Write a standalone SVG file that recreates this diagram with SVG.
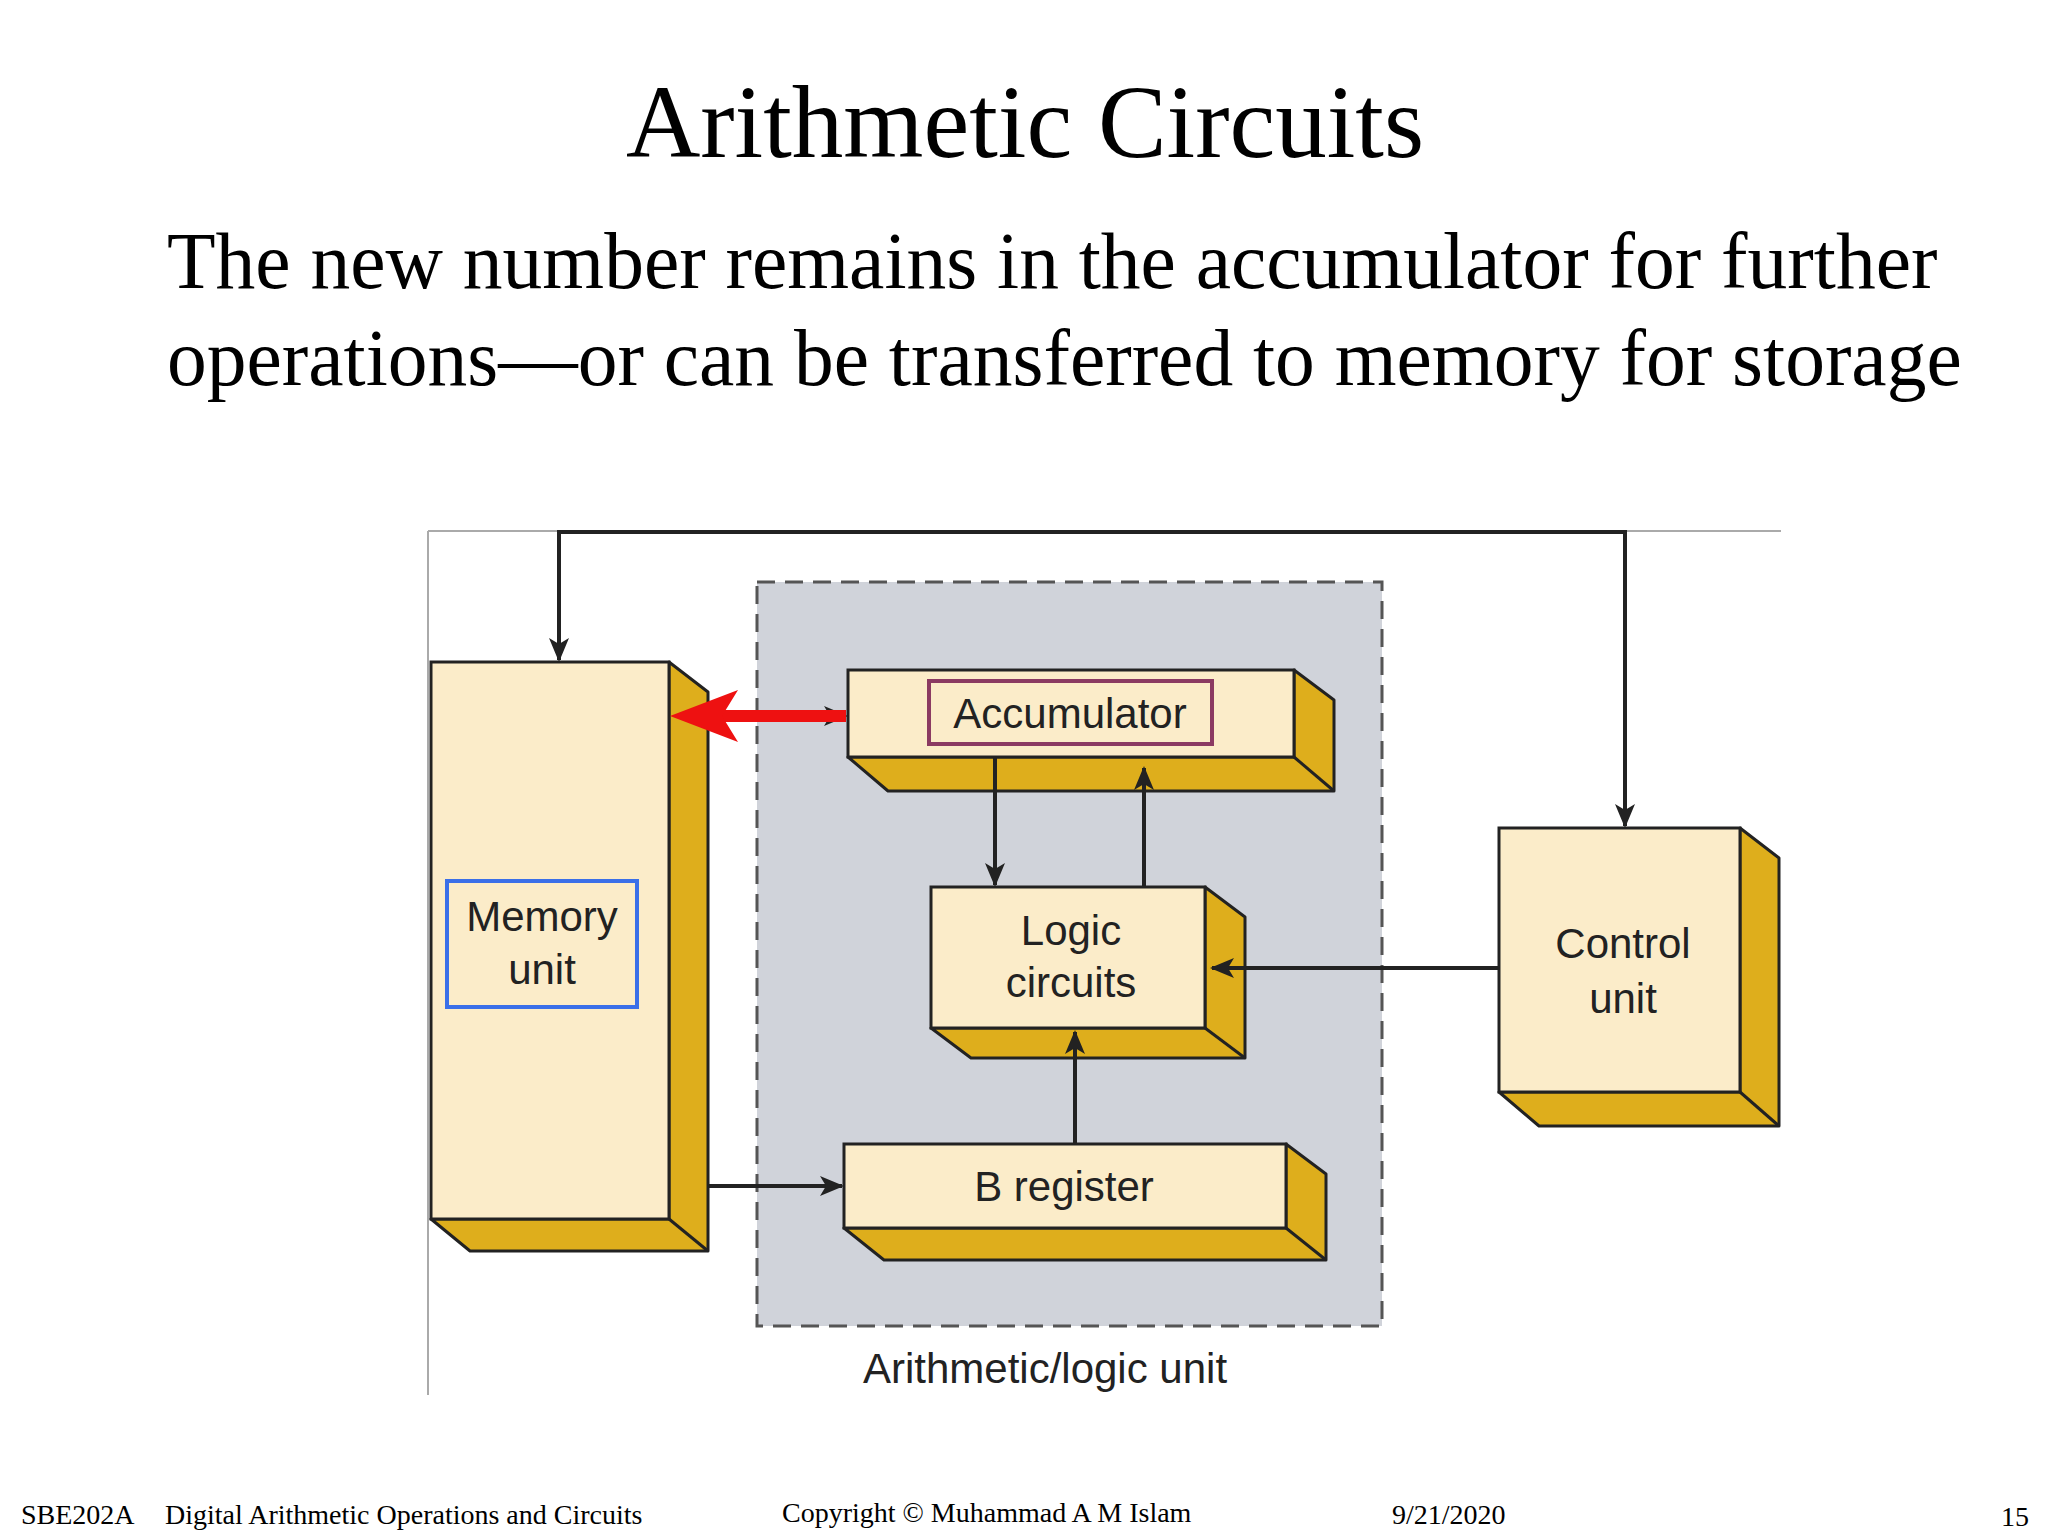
<svg xmlns="http://www.w3.org/2000/svg" width="2048" height="1536" viewBox="0 0 2048 1536">
<style>
.f{fill:#fbecc9;stroke:#222;stroke-width:3}
.d{fill:#deae1c;stroke:#222;stroke-width:3;stroke-linejoin:round}
.t{font-family:"Liberation Sans",Arial,sans-serif;font-size:42px;fill:#222;text-anchor:middle}
.s{font-family:"Liberation Serif","Times New Roman",serif;fill:#000}
.c{stroke:#222;stroke-width:4;fill:none}
</style>
<defs>
<marker id="a" viewBox="0 0 24 20" refX="22" refY="10" markerWidth="24" markerHeight="20" orient="auto" markerUnits="userSpaceOnUse">
<path d="M0,0 L24,10 L0,20 L6,10 Z" fill="#222"/>
</marker>
</defs>
<rect width="2048" height="1536" fill="#fff"/>
<text class="s" x="1025" y="157" font-size="103" text-anchor="middle">Arithmetic Circuits</text>
<text class="s" x="167" y="288" font-size="79.5">The new number remains in the accumulator for further</text>
<text class="s" x="167" y="385" font-size="79.5">operations—or can be transferred to memory for storage</text>

<line x1="428" y1="531" x2="1781" y2="531" stroke="#aaa" stroke-width="2"/>
<line x1="428" y1="531" x2="428" y2="1395" stroke="#aaa" stroke-width="2"/>

<g id="alu">
<rect x="757" y="582" width="625" height="744" fill="#d0d3da" stroke="#555" stroke-width="3" stroke-dasharray="18,10"/>
<text class="t" x="1045" y="1383" font-size="42">Arithmetic/logic unit</text>
</g>

<g id="memory">
<polygon class="d" points="669,662 708,692 708,1251 470,1251 431,1219 669,1219"/>
<line x1="669" y1="1219" x2="708" y2="1251" stroke="#222" stroke-width="3"/>
<rect class="f" x="431" y="662" width="238" height="557"/>
<rect x="447" y="881" width="190" height="126" fill="none" stroke="#3a6fe8" stroke-width="4"/>
<text class="t" x="542" y="931">Memory</text>
<text class="t" x="542" y="984">unit</text>
</g>

<g id="accumulator">
<polygon class="d" points="1294,670 1334,700 1334,791 888,791 848,757 1294,757"/>
<line x1="1294" y1="757" x2="1334" y2="791" stroke="#222" stroke-width="3"/>
<rect class="f" x="848" y="670" width="446" height="87"/>
<rect x="929" y="681" width="283" height="63" fill="none" stroke="#8b3a62" stroke-width="4"/>
<text class="t" x="1070" y="728">Accumulator</text>
</g>

<g id="logic">
<polygon class="d" points="1205,887 1245,917 1245,1058 971,1058 931,1028 1205,1028"/>
<line x1="1205" y1="1028" x2="1245" y2="1058" stroke="#222" stroke-width="3"/>
<rect class="f" x="931" y="887" width="274" height="141"/>
<text class="t" x="1071" y="945">Logic</text>
<text class="t" x="1071" y="997">circuits</text>
</g>

<g id="bregister">
<polygon class="d" points="1286,1144 1326,1174 1326,1260 884,1260 844,1228 1286,1228"/>
<line x1="1286" y1="1228" x2="1326" y2="1260" stroke="#222" stroke-width="3"/>
<rect class="f" x="844" y="1144" width="442" height="84"/>
<text class="t" x="1064" y="1201">B register</text>
</g>

<g id="control">
<polygon class="d" points="1740,828 1779,858 1779,1126 1539,1126 1499,1092 1740,1092"/>
<line x1="1740" y1="1092" x2="1779" y2="1126" stroke="#222" stroke-width="3"/>
<rect class="f" x="1499" y="828" width="241" height="264"/>
<text class="t" x="1623" y="958">Control</text>
<text class="t" x="1623" y="1013">unit</text>
</g>

<g id="connectors">
<polyline class="c" points="559,660 559,532 1625,532 1625,826" stroke-width="5" marker-end="url(#a)"/>
<line class="c" x1="559" y1="560" x2="559" y2="660" marker-end="url(#a)"/>
<line class="c" x1="995" y1="758" x2="995" y2="885" marker-end="url(#a)"/>
<line class="c" x1="1144" y1="887" x2="1144" y2="768" marker-end="url(#a)"/>
<line class="c" x1="1075" y1="1144" x2="1075" y2="1032" marker-end="url(#a)"/>
<line class="c" x1="1499" y1="968" x2="1212" y2="968" marker-end="url(#a)"/>
<line class="c" x1="708" y1="1186" x2="842" y2="1186" marker-end="url(#a)"/>
<line class="c" x1="790" y1="716" x2="846" y2="716" marker-end="url(#a)" stroke-width="2"/>
<line x1="846" y1="716" x2="720" y2="716" stroke="#ee1111" stroke-width="12"/>
<polygon points="670,716 738,690 722,716 738,742" fill="#ee1111"/>
</g>

<g font-family="Liberation Serif,serif" font-size="28" fill="#000">
<text x="21" y="1524">SBE202A</text>
<text x="165" y="1524">Digital Arithmetic Operations and Circuits</text>
<text x="782" y="1522">Copyright © Muhammad A M Islam</text>
<text x="1392" y="1524">9/21/2020</text>
<text x="2001" y="1526">15</text>
</g>
</svg>
